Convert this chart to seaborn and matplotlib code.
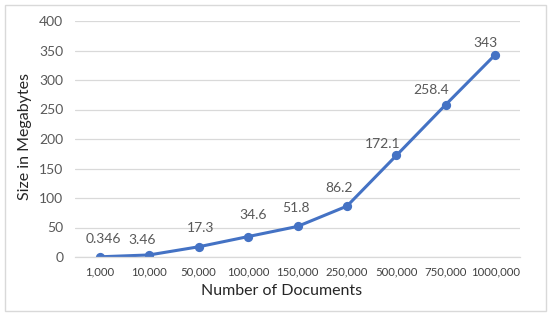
import matplotlib
matplotlib.use("Agg")
import matplotlib.pyplot as plt
import seaborn as sns
import pandas as pd
from matplotlib.patches import Rectangle

categories = ["1,000", "10,000", "50,000", "100,000", "150,000", "250,000",
              "500,000", "750,000", "1000,000"]
sizes_mb = [0.346, 3.46, 17.3, 34.6, 51.8, 86.2, 172.1, 258.4, 343]
value_labels = ["0.346", "3.46", "17.3", "34.6", "51.8", "86.2", "172.1", "258.4", "343"]
y_ticks = [0, 50, 100, 150, 200, 250, 300, 350, 400]

# label placement offsets (pixels), style only
label_offsets = [(4, 18), (-7, 15), (2, 19), (5, 22), (-2, 18), (-8, 18),
                 (-14, 11), (-15, 15), (-10, 12)]

sns.set_theme(style="white")
plt.rcParams['font.family'] = ['Lato', 'DejaVu Sans']

df = pd.DataFrame({"docs": categories, "size": sizes_mb})

fig = plt.figure(figsize=(5.5, 3.15), dpi=100)
ax = fig.add_axes([75/550, 1-257/315, (520-75)/550, (257-21)/315])

sns.pointplot(data=df, x="docs", y="size", color="#4472C4", ax=ax,
              marker="o", linestyle="-", linewidth=2.2, markersize=5)

ax.set_xlim(-0.5, len(categories) - 0.5)
ax.set_ylim(0, 400)
ax.set_yticks(y_ticks)
ax.set_yticklabels([str(t) for t in y_ticks])
ax.grid(axis="y", color="#d9d9d9", linewidth=0.9)
ax.set_axisbelow(True)
for s in ["top", "right", "left"]:
    ax.spines[s].set_visible(False)
ax.spines["bottom"].set_color("#d9d9d9")
ax.spines["bottom"].set_linewidth(0.9)
ax.tick_params(axis="y", length=0, pad=8.5, labelsize=10, labelcolor="#595959")
ax.tick_params(axis="x", length=0, pad=6.5, labelsize=8.2, labelcolor="#404040")

ax.set_xlabel("Number of Documents", fontsize=11.5, color="#262626")
ax.set_ylabel("Size in Megabytes", fontsize=11.5, color="#262626")
ax.xaxis.set_label_coords((282 - 75) / 445, -(291 - 257) / 236)
ax.yaxis.set_label_coords(-(75 - 25) / 445, (257 - 137) / 236)
ax.xaxis.label.set_va("center")
ax.yaxis.label.set_va("center")

for i, (v, lab, off) in enumerate(zip(sizes_mb, value_labels, label_offsets)):
    ax.annotate(lab, (i, v), xytext=off, textcoords="offset pixels",
                ha="center", va="center", fontsize=10, color="#595959")

fig.add_artist(Rectangle((4.5/550, 4.5/315), 541/550, 306/315,
                         transform=fig.transFigure, fill=False,
                         edgecolor="#d9d9d9", linewidth=1))

fig.savefig("out.png", dpi=100)
